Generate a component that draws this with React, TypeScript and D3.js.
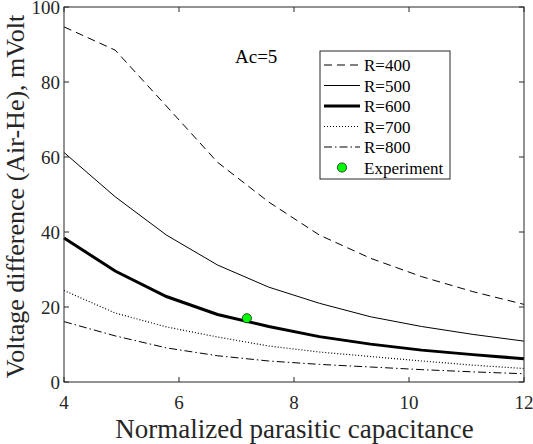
import React from "react";
import * as d3 from "d3";

// normalized parasitic capacitance samples
const capacitance = [4, 4.89, 5.78, 6.67, 7.56, 8.44, 9.33, 10.22, 11.11, 12];

// voltage difference (mV) for each load resistance
const r400 = [94.7, 88.5, 73.6, 58.6, 48.0, 39.2, 33.0, 28.1, 24.1, 20.7];
const r500 = [61.2, 49.4, 39.2, 31.2, 25.3, 21.0, 17.4, 14.8, 12.7, 10.9];
const r600 = [38.4, 29.6, 22.8, 18.0, 14.8, 12.1, 10.1, 8.5, 7.3, 6.2];
const r700 = [24.4, 18.4, 14.7, 12.0, 9.6, 8.0, 6.8, 5.6, 4.5, 3.6];
const r800 = [16.1, 12.3, 9.1, 7.0, 5.6, 4.7, 4.0, 3.3, 2.7, 2.2];

const seriesNames = ["R=400", "R=500", "R=600", "R=700", "R=800"];

const experiment = { x: 7.18, y: 17.0 };

const xTicks = [4, 6, 8, 10, 12];
const yTicks = [0, 20, 40, 60, 80, 100];

const FONT = '"Liberation Serif", "Times New Roman", Times, serif';
const AXIS = "#262626";

const styles = [
  { width: 1, dash: "8,5" },
  { width: 1, dash: "" },
  { width: 3, dash: "" },
  { width: 1.2, dash: "1,2" },
  { width: 1, dash: "8,3,1.5,3" },
];

export default function App() {
  const left = 64, right = 524, top = 7, bottom = 382;
  const x = d3.scaleLinear().domain([4, 12]).range([left, right]);
  const y = d3.scaleLinear().domain([0, 100]).range([bottom, top]);

  const all = [r400, r500, r600, r700, r800];
  const line = d3
    .line<number>()
    .x((_, i) => x(capacitance[i]))
    .y((d) => y(d));

  const legendX = 320, legendY = 51, legendW = 130, legendH = 128;
  const rowY = (i: number) => 65 + i * 20.5;
  const txt = { fontFamily: FONT };

  return (
    <svg
      width={533}
      height={444}
      style={{ position: "absolute", left: 0, top: 0, background: "#fff", fontFamily: FONT }}
    >
      <rect x={0} y={0} width={533} height={444} fill="#fff" />

      {/* curves */}
      {all.map((s, i) => (
        <path
          key={i}
          d={line(s) || ""}
          fill="none"
          stroke="#000"
          strokeWidth={styles[i].width}
          strokeDasharray={styles[i].dash || undefined}
        />
      ))}

      <circle
        cx={x(experiment.x)}
        cy={y(experiment.y)}
        r={4.6}
        fill="#00ff00"
        stroke="#1a1a1a"
        strokeWidth={0.8}
      />

      {/* axes box and ticks */}
      <rect x={left} y={top} width={right - left} height={bottom - top} fill="none" stroke={AXIS} strokeWidth={1} />
      {xTicks.map((t) => (
        <g key={"x" + t}>
          <line x1={x(t)} x2={x(t)} y1={bottom} y2={bottom - 5} stroke={AXIS} />
          <line x1={x(t)} x2={x(t)} y1={top} y2={top + 5} stroke={AXIS} />
          <text x={x(t)} y={409} textAnchor="middle" fontSize={19} fill={AXIS} style={txt}>
            {t}
          </text>
        </g>
      ))}
      {yTicks.map((t) => (
        <g key={"y" + t}>
          <line x1={left} x2={left + 5} y1={y(t)} y2={y(t)} stroke={AXIS} />
          <line x1={right} x2={right - 5} y1={y(t)} y2={y(t)} stroke={AXIS} />
          <text x={60} y={y(t) + 7} textAnchor="end" fontSize={19} fill={AXIS} style={txt}>
            {t}
          </text>
        </g>
      ))}

      <text x={(left + right) / 2 + 0.5} y={438} textAnchor="middle" fontSize={27} fill={AXIS} style={txt}>
        Normalized parasitic capacitance
      </text>
      <text
        transform={`translate(23.5, ${(top + bottom) / 2 + 2}) rotate(-90)`}
        textAnchor="middle"
        fontSize={26}
        fill={AXIS}
        style={txt}
      >
        Voltage difference (Air-He), mVolt
      </text>

      <text x={235} y={63} fontSize={19} fill="#000" style={txt}>
        Ac=5
      </text>

      {/* legend */}
      <rect x={legendX} y={legendY} width={legendW} height={legendH} fill="#fff" stroke={AXIS} strokeWidth={1} />
      {seriesNames.map((n, i) => (
        <g key={n}>
          <line
            x1={324}
            x2={360}
            y1={rowY(i)}
            y2={rowY(i)}
            stroke="#000"
            strokeWidth={styles[i].width}
            strokeDasharray={styles[i].dash || undefined}
          />
          <text x={364} y={rowY(i) + 6} fontSize={17} fill="#000" style={txt}>
            {n}
          </text>
        </g>
      ))}
      <circle cx={342} cy={rowY(5)} r={4.6} fill="#00ff00" stroke="#1a1a1a" strokeWidth={0.8} />
      <text x={364} y={rowY(5) + 6} fontSize={17} fill="#000" style={txt}>
        Experiment
      </text>
    </svg>
  );
}
